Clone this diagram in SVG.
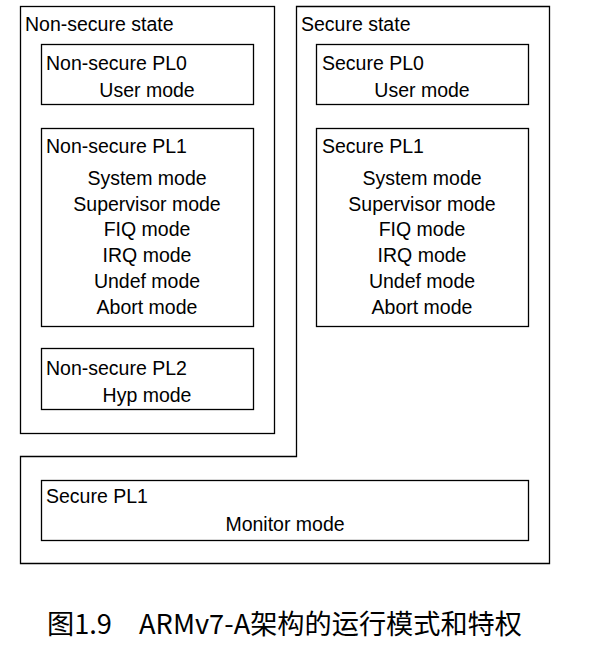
<svg xmlns="http://www.w3.org/2000/svg" width="606" height="646" viewBox="0 0 606 646">
<style>
.b{fill:#fff;stroke:#000;stroke-width:1.3}
text{font-family:"Liberation Sans",Arial,sans-serif;font-size:19.5px;fill:#000}
.c{text-anchor:middle}
.cap{font-family:"Noto Sans CJK SC","Open Sans",sans-serif;font-size:27px}
</style>
<rect width="606" height="646" fill="#fff"/>
<g id="ns-state"><rect class="b" x="20.5" y="6.5" width="254" height="427"/><text x="25" y="31">Non-secure state</text></g>
<g id="s-state"><path class="b" d="M296.5 6.5H549.5V563.5H20.5V456.5H296.5Z"/><text x="301" y="31">Secure state</text></g>
<g id="ns-pl0"><rect class="b" x="41.5" y="44.5" width="212" height="60"/><text x="46" y="70">Non-secure PL0</text><text class="c" x="147" y="97">User mode</text></g>
<g id="ns-pl1"><rect class="b" x="41.5" y="128.5" width="212" height="198"/><text x="46" y="153">Non-secure PL1</text>
<text class="c" x="147" y="185">System mode</text><text class="c" x="147" y="211">Supervisor mode</text><text class="c" x="147" y="236">FIQ mode</text><text class="c" x="147" y="262">IRQ mode</text><text class="c" x="147" y="288">Undef mode</text><text class="c" x="147" y="314">Abort mode</text></g>
<g id="ns-pl2"><rect class="b" x="41.5" y="348.5" width="212" height="61"/><text x="46" y="375">Non-secure PL2</text><text class="c" x="147" y="402">Hyp mode</text></g>
<g id="s-pl0"><rect class="b" x="316.5" y="44.5" width="212" height="60"/><text x="322" y="70">Secure PL0</text><text class="c" x="422" y="97">User mode</text></g>
<g id="s-pl1"><rect class="b" x="316.5" y="128.5" width="212" height="198"/><text x="322" y="153">Secure PL1</text>
<text class="c" x="422" y="185">System mode</text><text class="c" x="422" y="211">Supervisor mode</text><text class="c" x="422" y="236">FIQ mode</text><text class="c" x="422" y="262">IRQ mode</text><text class="c" x="422" y="288">Undef mode</text><text class="c" x="422" y="314">Abort mode</text></g>
<g id="s-mon"><rect class="b" x="41.5" y="480.5" width="487" height="60"/><text x="46" y="503">Secure PL1</text><text class="c" x="285" y="531">Monitor mode</text></g>
<g id="connectors"/>
<text class="cap" x="47" y="634" textLength="475" lengthAdjust="spacingAndGlyphs">图1.9　ARMv7-A架构的运行模式和特权</text>
</svg>
